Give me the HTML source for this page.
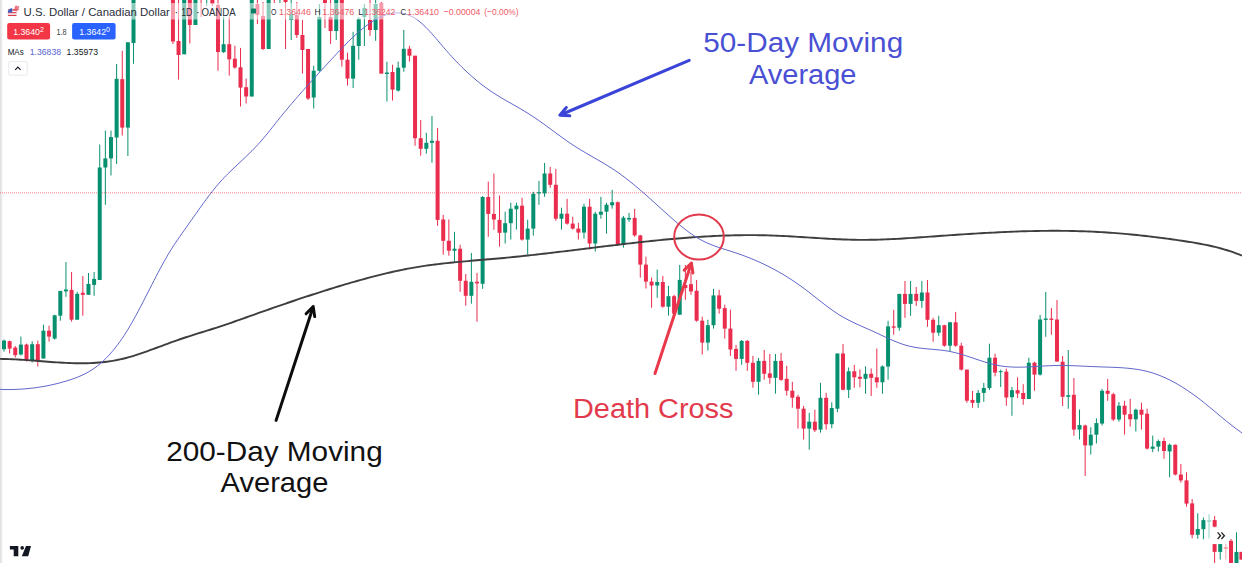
<!DOCTYPE html>
<html><head><meta charset="utf-8"><style>
html,body{margin:0;padding:0;background:#fff;}
body{width:1242px;height:563px;overflow:hidden;position:relative;font-family:"Liberation Sans", sans-serif;}
svg{position:absolute;left:0;top:0;display:block;}
</style></head><body>
<svg width="1242" height="563" viewBox="0 0 1242 563" font-family='"Liberation Sans", sans-serif'>
<rect x="0" y="0" width="1242" height="563" fill="#ffffff"/>
<rect x="0" y="0" width="1.7" height="563" fill="#e1e1e4"/>
<rect x="1.7" y="0" width="0.8" height="563" fill="#f2f2f4"/>
<line x1="0" y1="192.8" x2="1242" y2="192.8" stroke="#f23645" stroke-width="1" stroke-dasharray="1 1" opacity="0.6"/>
<g shape-rendering="auto">
<rect x="3.50" y="339.60" width="1" height="12.00" fill="#07906f"/><rect x="2.00" y="340.60" width="4.0" height="8.60" fill="#07906f"/>
<rect x="9.13" y="340.60" width="1" height="12.90" fill="#ea2c4e"/><rect x="7.63" y="341.20" width="4.0" height="7.40" fill="#ea2c4e"/>
<rect x="14.76" y="346.00" width="1" height="11.50" fill="#ea2c4e"/><rect x="13.26" y="347.60" width="4.0" height="7.50" fill="#ea2c4e"/>
<rect x="20.39" y="336.60" width="1" height="18.90" fill="#07906f"/><rect x="18.89" y="344.60" width="4.0" height="9.90" fill="#07906f"/>
<rect x="26.02" y="343.60" width="1" height="17.90" fill="#ea2c4e"/><rect x="24.52" y="344.60" width="4.0" height="15.90" fill="#ea2c4e"/>
<rect x="31.66" y="341.20" width="1" height="21.30" fill="#07906f"/><rect x="30.16" y="344.20" width="4.0" height="16.30" fill="#07906f"/>
<rect x="37.29" y="340.60" width="1" height="25.90" fill="#ea2c4e"/><rect x="35.79" y="344.20" width="4.0" height="15.80" fill="#ea2c4e"/>
<rect x="42.92" y="324.70" width="1" height="33.80" fill="#07906f"/><rect x="41.42" y="330.70" width="4.0" height="27.80" fill="#07906f"/>
<rect x="48.55" y="325.70" width="1" height="15.90" fill="#ea2c4e"/><rect x="47.05" y="330.70" width="4.0" height="5.90" fill="#ea2c4e"/>
<rect x="54.18" y="314.70" width="1" height="24.90" fill="#07906f"/><rect x="52.68" y="315.30" width="4.0" height="23.30" fill="#07906f"/>
<rect x="59.81" y="290.90" width="1" height="29.80" fill="#07906f"/><rect x="58.31" y="290.90" width="4.0" height="24.80" fill="#07906f"/>
<rect x="65.44" y="262.00" width="1" height="34.80" fill="#07906f"/><rect x="63.94" y="289.50" width="4.0" height="1.90" fill="#07906f"/>
<rect x="71.07" y="272.00" width="1" height="49.70" fill="#ea2c4e"/><rect x="69.57" y="289.90" width="4.0" height="29.80" fill="#ea2c4e"/>
<rect x="76.70" y="291.80" width="1" height="27.90" fill="#07906f"/><rect x="75.20" y="293.80" width="4.0" height="25.90" fill="#07906f"/>
<rect x="82.33" y="276.00" width="1" height="39.70" fill="#ea2c4e"/><rect x="80.83" y="292.80" width="4.0" height="2.00" fill="#ea2c4e"/>
<rect x="87.97" y="273.00" width="1" height="21.80" fill="#07906f"/><rect x="86.47" y="283.90" width="4.0" height="10.90" fill="#07906f"/>
<rect x="93.60" y="272.00" width="1" height="23.80" fill="#07906f"/><rect x="92.10" y="278.90" width="4.0" height="6.00" fill="#07906f"/>
<rect x="99.23" y="144.50" width="1" height="135.50" fill="#07906f"/><rect x="97.73" y="167.50" width="4.0" height="112.50" fill="#07906f"/>
<rect x="104.86" y="130.60" width="1" height="74.10" fill="#07906f"/><rect x="103.36" y="158.40" width="4.0" height="9.10" fill="#07906f"/>
<rect x="110.49" y="130.60" width="1" height="44.90" fill="#07906f"/><rect x="108.99" y="137.10" width="4.0" height="21.30" fill="#07906f"/>
<rect x="116.12" y="63.90" width="1" height="100.10" fill="#07906f"/><rect x="114.62" y="78.80" width="4.0" height="58.70" fill="#07906f"/>
<rect x="121.75" y="50.80" width="1" height="84.70" fill="#ea2c4e"/><rect x="120.25" y="79.20" width="4.0" height="48.40" fill="#ea2c4e"/>
<rect x="127.38" y="42.30" width="1" height="113.70" fill="#07906f"/><rect x="125.88" y="42.30" width="4.0" height="85.30" fill="#07906f"/>
<rect x="133.01" y="-10.00" width="1" height="73.80" fill="#07906f"/><rect x="131.51" y="-10.00" width="4.0" height="53.00" fill="#07906f"/>
<rect x="172.43" y="-10.00" width="1" height="54.00" fill="#ea2c4e"/><rect x="170.93" y="-10.00" width="4.0" height="51.50" fill="#ea2c4e"/>
<rect x="178.06" y="-10.00" width="1" height="89.60" fill="#ea2c4e"/><rect x="176.56" y="41.00" width="4.0" height="14.00" fill="#ea2c4e"/>
<rect x="183.69" y="-10.00" width="1" height="64.30" fill="#07906f"/><rect x="182.19" y="-10.00" width="4.0" height="64.30" fill="#07906f"/>
<rect x="189.32" y="-10.00" width="1" height="53.50" fill="#ea2c4e"/><rect x="187.82" y="-10.00" width="4.0" height="35.00" fill="#ea2c4e"/>
<rect x="194.95" y="-10.00" width="1" height="35.00" fill="#07906f"/><rect x="193.45" y="-10.00" width="4.0" height="35.00" fill="#07906f"/>
<rect x="200.59" y="-10.00" width="1" height="27.00" fill="#ea2c4e"/><rect x="199.09" y="-10.00" width="4.0" height="8.00" fill="#ea2c4e"/>
<rect x="206.22" y="-10.00" width="1" height="16.00" fill="#07906f"/><rect x="204.72" y="-10.00" width="4.0" height="8.00" fill="#07906f"/>
<rect x="211.85" y="-10.00" width="1" height="16.00" fill="#ea2c4e"/><rect x="210.35" y="-10.00" width="4.0" height="14.00" fill="#ea2c4e"/>
<rect x="217.48" y="-10.00" width="1" height="80.70" fill="#ea2c4e"/><rect x="215.98" y="5.00" width="4.0" height="47.00" fill="#ea2c4e"/>
<rect x="223.11" y="16.50" width="1" height="36.50" fill="#07906f"/><rect x="221.61" y="44.20" width="4.0" height="7.90" fill="#07906f"/>
<rect x="228.74" y="16.50" width="1" height="59.10" fill="#ea2c4e"/><rect x="227.24" y="44.20" width="4.0" height="15.10" fill="#ea2c4e"/>
<rect x="234.37" y="45.60" width="1" height="23.10" fill="#ea2c4e"/><rect x="232.87" y="58.70" width="4.0" height="8.80" fill="#ea2c4e"/>
<rect x="240.00" y="47.90" width="1" height="58.60" fill="#ea2c4e"/><rect x="238.50" y="67.30" width="4.0" height="20.30" fill="#ea2c4e"/>
<rect x="245.63" y="78.60" width="1" height="24.90" fill="#ea2c4e"/><rect x="244.13" y="87.20" width="4.0" height="9.30" fill="#ea2c4e"/>
<rect x="251.26" y="-10.00" width="1" height="106.50" fill="#07906f"/><rect x="249.76" y="-10.00" width="4.0" height="106.50" fill="#07906f"/>
<rect x="256.89" y="-10.00" width="1" height="34.00" fill="#ea2c4e"/><rect x="255.39" y="4.00" width="4.0" height="11.00" fill="#ea2c4e"/>
<rect x="262.53" y="2.00" width="1" height="48.00" fill="#ea2c4e"/><rect x="261.03" y="16.00" width="4.0" height="33.00" fill="#ea2c4e"/>
<rect x="268.16" y="-10.00" width="1" height="59.00" fill="#07906f"/><rect x="266.66" y="-10.00" width="4.0" height="59.00" fill="#07906f"/>
<rect x="273.79" y="-10.00" width="1" height="13.00" fill="#ea2c4e"/><rect x="272.29" y="-10.00" width="4.0" height="8.00" fill="#ea2c4e"/>
<rect x="279.42" y="-10.00" width="1" height="13.00" fill="#07906f"/><rect x="277.92" y="-10.00" width="4.0" height="8.00" fill="#07906f"/>
<rect x="285.05" y="-10.00" width="1" height="59.00" fill="#ea2c4e"/><rect x="283.55" y="-10.00" width="4.0" height="12.00" fill="#ea2c4e"/>
<rect x="290.68" y="-10.00" width="1" height="50.00" fill="#07906f"/><rect x="289.18" y="14.00" width="4.0" height="6.00" fill="#07906f"/>
<rect x="296.31" y="2.00" width="1" height="36.00" fill="#ea2c4e"/><rect x="294.81" y="15.00" width="4.0" height="20.00" fill="#ea2c4e"/>
<rect x="301.94" y="20.00" width="1" height="53.60" fill="#ea2c4e"/><rect x="300.44" y="35.00" width="4.0" height="15.00" fill="#ea2c4e"/>
<rect x="307.57" y="48.80" width="1" height="51.20" fill="#ea2c4e"/><rect x="306.07" y="49.00" width="4.0" height="49.50" fill="#ea2c4e"/>
<rect x="313.21" y="65.70" width="1" height="42.80" fill="#07906f"/><rect x="311.71" y="70.70" width="4.0" height="26.80" fill="#07906f"/>
<rect x="318.84" y="4.00" width="1" height="67.70" fill="#07906f"/><rect x="317.34" y="17.00" width="4.0" height="53.70" fill="#07906f"/>
<rect x="324.47" y="-10.00" width="1" height="38.00" fill="#ea2c4e"/><rect x="322.97" y="-10.00" width="4.0" height="13.00" fill="#ea2c4e"/>
<rect x="330.10" y="-10.00" width="1" height="54.00" fill="#ea2c4e"/><rect x="328.60" y="17.00" width="4.0" height="14.00" fill="#ea2c4e"/>
<rect x="335.73" y="-10.00" width="1" height="50.00" fill="#07906f"/><rect x="334.23" y="-10.00" width="4.0" height="41.00" fill="#07906f"/>
<rect x="341.36" y="-10.00" width="1" height="76.70" fill="#ea2c4e"/><rect x="339.86" y="-10.00" width="4.0" height="69.70" fill="#ea2c4e"/>
<rect x="346.99" y="52.70" width="1" height="32.90" fill="#ea2c4e"/><rect x="345.49" y="59.70" width="4.0" height="18.90" fill="#ea2c4e"/>
<rect x="352.62" y="31.80" width="1" height="56.20" fill="#07906f"/><rect x="351.12" y="45.80" width="4.0" height="32.80" fill="#07906f"/>
<rect x="358.25" y="17.00" width="1" height="42.70" fill="#07906f"/><rect x="356.75" y="19.00" width="4.0" height="27.00" fill="#07906f"/>
<rect x="363.88" y="4.00" width="1" height="42.00" fill="#07906f"/><rect x="362.38" y="8.00" width="4.0" height="9.00" fill="#07906f"/>
<rect x="369.51" y="-10.00" width="1" height="45.80" fill="#ea2c4e"/><rect x="368.01" y="20.00" width="4.0" height="10.00" fill="#ea2c4e"/>
<rect x="375.15" y="-10.00" width="1" height="50.80" fill="#07906f"/><rect x="373.65" y="4.00" width="4.0" height="26.00" fill="#07906f"/>
<rect x="380.78" y="2.00" width="1" height="71.60" fill="#ea2c4e"/><rect x="379.28" y="3.00" width="4.0" height="70.60" fill="#ea2c4e"/>
<rect x="386.41" y="61.70" width="1" height="39.80" fill="#07906f"/><rect x="384.91" y="72.50" width="4.0" height="1.50" fill="#07906f"/>
<rect x="392.04" y="64.70" width="1" height="35.80" fill="#ea2c4e"/><rect x="390.54" y="72.00" width="4.0" height="17.60" fill="#ea2c4e"/>
<rect x="397.67" y="61.70" width="1" height="29.90" fill="#07906f"/><rect x="396.17" y="67.70" width="4.0" height="22.90" fill="#07906f"/>
<rect x="403.30" y="29.90" width="1" height="41.80" fill="#07906f"/><rect x="401.80" y="48.80" width="4.0" height="18.90" fill="#07906f"/>
<rect x="408.93" y="45.80" width="1" height="15.90" fill="#ea2c4e"/><rect x="407.43" y="48.80" width="4.0" height="6.90" fill="#ea2c4e"/>
<rect x="414.56" y="55.70" width="1" height="90.10" fill="#ea2c4e"/><rect x="413.06" y="55.70" width="4.0" height="82.50" fill="#ea2c4e"/>
<rect x="420.19" y="119.90" width="1" height="35.80" fill="#ea2c4e"/><rect x="418.69" y="138.20" width="4.0" height="10.60" fill="#ea2c4e"/>
<rect x="425.83" y="132.80" width="1" height="20.90" fill="#07906f"/><rect x="424.33" y="142.80" width="4.0" height="6.00" fill="#07906f"/>
<rect x="431.46" y="115.90" width="1" height="46.80" fill="#07906f"/><rect x="429.96" y="140.80" width="4.0" height="2.00" fill="#07906f"/>
<rect x="437.09" y="127.90" width="1" height="97.90" fill="#ea2c4e"/><rect x="435.59" y="140.80" width="4.0" height="79.10" fill="#ea2c4e"/>
<rect x="442.72" y="214.90" width="1" height="39.80" fill="#ea2c4e"/><rect x="441.22" y="219.50" width="4.0" height="21.30" fill="#ea2c4e"/>
<rect x="448.35" y="219.50" width="1" height="36.20" fill="#ea2c4e"/><rect x="446.85" y="240.80" width="4.0" height="9.90" fill="#ea2c4e"/>
<rect x="453.98" y="231.80" width="1" height="29.90" fill="#07906f"/><rect x="452.48" y="248.70" width="4.0" height="2.00" fill="#07906f"/>
<rect x="459.61" y="244.70" width="1" height="47.10" fill="#ea2c4e"/><rect x="458.11" y="248.70" width="4.0" height="32.10" fill="#ea2c4e"/>
<rect x="465.24" y="273.90" width="1" height="31.80" fill="#ea2c4e"/><rect x="463.74" y="280.80" width="4.0" height="15.00" fill="#ea2c4e"/>
<rect x="470.87" y="253.00" width="1" height="50.70" fill="#07906f"/><rect x="469.37" y="281.80" width="4.0" height="14.00" fill="#07906f"/>
<rect x="476.50" y="272.90" width="1" height="48.80" fill="#ea2c4e"/><rect x="475.00" y="281.80" width="4.0" height="1.60" fill="#ea2c4e"/>
<rect x="482.13" y="196.00" width="1" height="92.80" fill="#07906f"/><rect x="480.63" y="197.00" width="4.0" height="86.80" fill="#07906f"/>
<rect x="487.77" y="181.60" width="1" height="55.20" fill="#ea2c4e"/><rect x="486.27" y="197.00" width="4.0" height="16.90" fill="#ea2c4e"/>
<rect x="493.40" y="173.60" width="1" height="56.20" fill="#ea2c4e"/><rect x="491.90" y="213.90" width="4.0" height="5.60" fill="#ea2c4e"/>
<rect x="499.03" y="195.50" width="1" height="51.20" fill="#ea2c4e"/><rect x="497.53" y="219.90" width="4.0" height="12.90" fill="#ea2c4e"/>
<rect x="504.66" y="211.70" width="1" height="31.80" fill="#07906f"/><rect x="503.16" y="223.20" width="4.0" height="9.40" fill="#07906f"/>
<rect x="510.29" y="202.70" width="1" height="36.90" fill="#07906f"/><rect x="508.79" y="208.70" width="4.0" height="14.50" fill="#07906f"/>
<rect x="515.92" y="202.70" width="1" height="26.90" fill="#07906f"/><rect x="514.42" y="205.70" width="4.0" height="3.60" fill="#07906f"/>
<rect x="521.55" y="197.80" width="1" height="42.80" fill="#ea2c4e"/><rect x="520.05" y="205.70" width="4.0" height="33.90" fill="#ea2c4e"/>
<rect x="527.18" y="219.70" width="1" height="34.80" fill="#07906f"/><rect x="525.68" y="228.60" width="4.0" height="11.00" fill="#07906f"/>
<rect x="532.81" y="191.80" width="1" height="43.80" fill="#07906f"/><rect x="531.31" y="193.80" width="4.0" height="34.80" fill="#07906f"/>
<rect x="538.45" y="180.90" width="1" height="23.80" fill="#07906f"/><rect x="536.95" y="192.20" width="4.0" height="1.20" fill="#07906f"/>
<rect x="544.08" y="162.90" width="1" height="33.90" fill="#07906f"/><rect x="542.58" y="173.50" width="4.0" height="19.90" fill="#07906f"/>
<rect x="549.71" y="166.90" width="1" height="20.90" fill="#ea2c4e"/><rect x="548.21" y="173.50" width="4.0" height="11.30" fill="#ea2c4e"/>
<rect x="555.34" y="168.90" width="1" height="51.80" fill="#ea2c4e"/><rect x="553.84" y="184.80" width="4.0" height="33.90" fill="#ea2c4e"/>
<rect x="560.97" y="207.70" width="1" height="21.90" fill="#07906f"/><rect x="559.47" y="213.70" width="4.0" height="5.00" fill="#07906f"/>
<rect x="566.60" y="198.80" width="1" height="25.80" fill="#ea2c4e"/><rect x="565.10" y="213.70" width="4.0" height="9.90" fill="#ea2c4e"/>
<rect x="572.23" y="216.70" width="1" height="12.90" fill="#ea2c4e"/><rect x="570.73" y="223.60" width="4.0" height="5.00" fill="#ea2c4e"/>
<rect x="577.86" y="222.70" width="1" height="16.90" fill="#ea2c4e"/><rect x="576.36" y="228.60" width="4.0" height="4.00" fill="#ea2c4e"/>
<rect x="583.49" y="203.70" width="1" height="34.90" fill="#07906f"/><rect x="581.99" y="206.70" width="4.0" height="25.90" fill="#07906f"/>
<rect x="589.12" y="198.80" width="1" height="50.70" fill="#ea2c4e"/><rect x="587.62" y="206.70" width="4.0" height="36.80" fill="#ea2c4e"/>
<rect x="594.75" y="211.70" width="1" height="39.80" fill="#07906f"/><rect x="593.25" y="213.70" width="4.0" height="29.80" fill="#07906f"/>
<rect x="600.39" y="196.80" width="1" height="21.90" fill="#07906f"/><rect x="598.89" y="211.70" width="4.0" height="3.00" fill="#07906f"/>
<rect x="606.02" y="202.70" width="1" height="30.90" fill="#07906f"/><rect x="604.52" y="204.70" width="4.0" height="7.00" fill="#07906f"/>
<rect x="611.65" y="189.80" width="1" height="18.90" fill="#07906f"/><rect x="610.15" y="202.20" width="4.0" height="3.10" fill="#07906f"/>
<rect x="617.28" y="201.40" width="1" height="44.10" fill="#ea2c4e"/><rect x="615.78" y="202.20" width="4.0" height="42.30" fill="#ea2c4e"/>
<rect x="622.91" y="215.90" width="1" height="31.80" fill="#07906f"/><rect x="621.41" y="217.70" width="4.0" height="26.80" fill="#07906f"/>
<rect x="628.54" y="212.90" width="1" height="8.90" fill="#07906f"/><rect x="627.04" y="217.90" width="4.0" height="1.60" fill="#07906f"/>
<rect x="634.17" y="208.90" width="1" height="27.90" fill="#ea2c4e"/><rect x="632.67" y="217.90" width="4.0" height="17.50" fill="#ea2c4e"/>
<rect x="639.80" y="234.80" width="1" height="42.80" fill="#ea2c4e"/><rect x="638.30" y="235.40" width="4.0" height="29.20" fill="#ea2c4e"/>
<rect x="645.43" y="256.70" width="1" height="31.80" fill="#ea2c4e"/><rect x="643.93" y="264.60" width="4.0" height="17.00" fill="#ea2c4e"/>
<rect x="651.07" y="277.60" width="1" height="30.10" fill="#ea2c4e"/><rect x="649.57" y="281.60" width="4.0" height="3.90" fill="#ea2c4e"/>
<rect x="656.70" y="269.60" width="1" height="28.20" fill="#07906f"/><rect x="655.20" y="282.00" width="4.0" height="3.50" fill="#07906f"/>
<rect x="662.33" y="275.90" width="1" height="31.80" fill="#ea2c4e"/><rect x="660.83" y="282.00" width="4.0" height="24.70" fill="#ea2c4e"/>
<rect x="667.96" y="285.80" width="1" height="29.90" fill="#07906f"/><rect x="666.46" y="296.20" width="4.0" height="10.50" fill="#07906f"/>
<rect x="673.59" y="294.80" width="1" height="20.90" fill="#ea2c4e"/><rect x="672.09" y="296.20" width="4.0" height="17.50" fill="#ea2c4e"/>
<rect x="679.22" y="264.90" width="1" height="49.80" fill="#07906f"/><rect x="677.72" y="279.90" width="4.0" height="34.80" fill="#07906f"/>
<rect x="684.85" y="265.00" width="1" height="34.80" fill="#ea2c4e"/><rect x="683.35" y="285.00" width="4.0" height="3.00" fill="#ea2c4e"/>
<rect x="690.48" y="271.90" width="1" height="22.90" fill="#ea2c4e"/><rect x="688.98" y="284.20" width="4.0" height="7.20" fill="#ea2c4e"/>
<rect x="696.11" y="279.90" width="1" height="41.80" fill="#ea2c4e"/><rect x="694.61" y="290.80" width="4.0" height="29.90" fill="#ea2c4e"/>
<rect x="701.74" y="316.70" width="1" height="37.80" fill="#ea2c4e"/><rect x="700.24" y="320.70" width="4.0" height="21.90" fill="#ea2c4e"/>
<rect x="707.38" y="319.70" width="1" height="30.80" fill="#07906f"/><rect x="705.88" y="325.20" width="4.0" height="17.40" fill="#07906f"/>
<rect x="713.01" y="288.80" width="1" height="39.80" fill="#07906f"/><rect x="711.51" y="295.40" width="4.0" height="29.80" fill="#07906f"/>
<rect x="718.64" y="289.80" width="1" height="23.90" fill="#ea2c4e"/><rect x="717.14" y="295.40" width="4.0" height="13.30" fill="#ea2c4e"/>
<rect x="724.27" y="304.70" width="1" height="33.90" fill="#ea2c4e"/><rect x="722.77" y="308.10" width="4.0" height="20.50" fill="#ea2c4e"/>
<rect x="729.90" y="309.70" width="1" height="46.20" fill="#ea2c4e"/><rect x="728.40" y="328.60" width="4.0" height="20.90" fill="#ea2c4e"/>
<rect x="735.53" y="344.90" width="1" height="25.90" fill="#ea2c4e"/><rect x="734.03" y="348.90" width="4.0" height="10.00" fill="#ea2c4e"/>
<rect x="741.16" y="340.00" width="1" height="24.80" fill="#07906f"/><rect x="739.66" y="340.90" width="4.0" height="18.00" fill="#07906f"/>
<rect x="746.79" y="340.00" width="1" height="30.80" fill="#ea2c4e"/><rect x="745.29" y="340.90" width="4.0" height="21.90" fill="#ea2c4e"/>
<rect x="752.42" y="355.90" width="1" height="31.80" fill="#ea2c4e"/><rect x="750.92" y="362.80" width="4.0" height="19.00" fill="#ea2c4e"/>
<rect x="758.05" y="357.90" width="1" height="36.80" fill="#07906f"/><rect x="756.55" y="360.90" width="4.0" height="20.90" fill="#07906f"/>
<rect x="763.69" y="349.90" width="1" height="29.90" fill="#ea2c4e"/><rect x="762.19" y="360.90" width="4.0" height="12.90" fill="#ea2c4e"/>
<rect x="769.32" y="353.90" width="1" height="29.80" fill="#ea2c4e"/><rect x="767.82" y="373.40" width="4.0" height="4.40" fill="#ea2c4e"/>
<rect x="774.95" y="353.90" width="1" height="39.80" fill="#07906f"/><rect x="773.45" y="360.90" width="4.0" height="16.90" fill="#07906f"/>
<rect x="780.58" y="352.90" width="1" height="27.90" fill="#ea2c4e"/><rect x="779.08" y="360.90" width="4.0" height="18.90" fill="#ea2c4e"/>
<rect x="786.21" y="365.80" width="1" height="29.90" fill="#ea2c4e"/><rect x="784.71" y="378.80" width="4.0" height="11.90" fill="#ea2c4e"/>
<rect x="791.84" y="381.80" width="1" height="25.80" fill="#ea2c4e"/><rect x="790.34" y="390.70" width="4.0" height="7.00" fill="#ea2c4e"/>
<rect x="797.47" y="394.80" width="1" height="33.70" fill="#ea2c4e"/><rect x="795.97" y="396.80" width="4.0" height="11.90" fill="#ea2c4e"/>
<rect x="803.10" y="405.90" width="1" height="33.70" fill="#ea2c4e"/><rect x="801.60" y="408.70" width="4.0" height="19.90" fill="#ea2c4e"/>
<rect x="808.73" y="412.80" width="1" height="36.90" fill="#07906f"/><rect x="807.23" y="421.70" width="4.0" height="6.90" fill="#07906f"/>
<rect x="814.36" y="409.70" width="1" height="22.30" fill="#ea2c4e"/><rect x="812.86" y="421.70" width="4.0" height="8.50" fill="#ea2c4e"/>
<rect x="820.00" y="382.80" width="1" height="49.80" fill="#07906f"/><rect x="818.50" y="397.80" width="4.0" height="31.80" fill="#07906f"/>
<rect x="825.63" y="392.80" width="1" height="36.80" fill="#ea2c4e"/><rect x="824.13" y="397.80" width="4.0" height="26.40" fill="#ea2c4e"/>
<rect x="831.26" y="402.30" width="1" height="25.90" fill="#07906f"/><rect x="829.76" y="408.00" width="4.0" height="16.20" fill="#07906f"/>
<rect x="836.89" y="353.50" width="1" height="58.70" fill="#07906f"/><rect x="835.39" y="353.50" width="4.0" height="55.20" fill="#07906f"/>
<rect x="842.52" y="344.00" width="1" height="46.20" fill="#ea2c4e"/><rect x="841.02" y="353.50" width="4.0" height="36.30" fill="#ea2c4e"/>
<rect x="848.15" y="367.40" width="1" height="30.60" fill="#07906f"/><rect x="846.65" y="371.30" width="4.0" height="18.50" fill="#07906f"/>
<rect x="853.78" y="364.90" width="1" height="22.90" fill="#ea2c4e"/><rect x="852.28" y="371.30" width="4.0" height="6.00" fill="#ea2c4e"/>
<rect x="859.41" y="369.40" width="1" height="17.90" fill="#ea2c4e"/><rect x="857.91" y="376.80" width="4.0" height="2.00" fill="#ea2c4e"/>
<rect x="865.04" y="366.40" width="1" height="27.30" fill="#07906f"/><rect x="863.54" y="373.80" width="4.0" height="5.00" fill="#07906f"/>
<rect x="870.67" y="368.40" width="1" height="27.60" fill="#ea2c4e"/><rect x="869.17" y="373.80" width="4.0" height="4.00" fill="#ea2c4e"/>
<rect x="876.31" y="348.50" width="1" height="39.30" fill="#ea2c4e"/><rect x="874.81" y="377.30" width="4.0" height="5.00" fill="#ea2c4e"/>
<rect x="881.94" y="365.40" width="1" height="28.30" fill="#07906f"/><rect x="880.44" y="366.40" width="4.0" height="15.90" fill="#07906f"/>
<rect x="887.57" y="320.80" width="1" height="58.90" fill="#07906f"/><rect x="886.07" y="326.40" width="4.0" height="40.10" fill="#07906f"/>
<rect x="893.20" y="309.80" width="1" height="24.90" fill="#ea2c4e"/><rect x="891.70" y="326.40" width="4.0" height="1.30" fill="#ea2c4e"/>
<rect x="898.83" y="293.90" width="1" height="36.80" fill="#07906f"/><rect x="897.33" y="293.90" width="4.0" height="33.80" fill="#07906f"/>
<rect x="904.46" y="281.00" width="1" height="36.80" fill="#ea2c4e"/><rect x="902.96" y="293.90" width="4.0" height="10.00" fill="#ea2c4e"/>
<rect x="910.09" y="281.00" width="1" height="34.80" fill="#07906f"/><rect x="908.59" y="293.90" width="4.0" height="10.00" fill="#07906f"/>
<rect x="915.72" y="287.00" width="1" height="18.90" fill="#ea2c4e"/><rect x="914.22" y="293.90" width="4.0" height="7.00" fill="#ea2c4e"/>
<rect x="921.35" y="281.00" width="1" height="26.80" fill="#07906f"/><rect x="919.85" y="292.50" width="4.0" height="8.40" fill="#07906f"/>
<rect x="926.98" y="280.00" width="1" height="46.80" fill="#ea2c4e"/><rect x="925.48" y="292.50" width="4.0" height="27.30" fill="#ea2c4e"/>
<rect x="932.62" y="317.80" width="1" height="23.90" fill="#ea2c4e"/><rect x="931.12" y="319.80" width="4.0" height="12.90" fill="#ea2c4e"/>
<rect x="938.25" y="315.80" width="1" height="19.90" fill="#07906f"/><rect x="936.75" y="325.20" width="4.0" height="7.50" fill="#07906f"/>
<rect x="943.88" y="324.80" width="1" height="21.90" fill="#ea2c4e"/><rect x="942.38" y="325.20" width="4.0" height="20.50" fill="#ea2c4e"/>
<rect x="949.51" y="321.80" width="1" height="29.20" fill="#07906f"/><rect x="948.01" y="322.30" width="4.0" height="23.40" fill="#07906f"/>
<rect x="955.14" y="311.90" width="1" height="34.80" fill="#ea2c4e"/><rect x="953.64" y="322.30" width="4.0" height="23.40" fill="#ea2c4e"/>
<rect x="960.77" y="342.70" width="1" height="27.90" fill="#ea2c4e"/><rect x="959.27" y="345.70" width="4.0" height="23.90" fill="#ea2c4e"/>
<rect x="966.40" y="369.60" width="1" height="33.20" fill="#ea2c4e"/><rect x="964.90" y="369.60" width="4.0" height="31.10" fill="#ea2c4e"/>
<rect x="972.03" y="390.90" width="1" height="16.90" fill="#ea2c4e"/><rect x="970.53" y="399.90" width="4.0" height="2.90" fill="#ea2c4e"/>
<rect x="977.66" y="389.90" width="1" height="17.90" fill="#07906f"/><rect x="976.16" y="392.90" width="4.0" height="9.90" fill="#07906f"/>
<rect x="983.29" y="382.90" width="1" height="18.90" fill="#07906f"/><rect x="981.79" y="387.90" width="4.0" height="5.00" fill="#07906f"/>
<rect x="988.93" y="343.70" width="1" height="46.30" fill="#07906f"/><rect x="987.43" y="357.70" width="4.0" height="30.30" fill="#07906f"/>
<rect x="994.56" y="353.70" width="1" height="22.60" fill="#ea2c4e"/><rect x="993.06" y="357.70" width="4.0" height="14.90" fill="#ea2c4e"/>
<rect x="1000.19" y="369.60" width="1" height="17.40" fill="#07906f"/><rect x="998.69" y="371.20" width="4.0" height="1.00" fill="#07906f"/>
<rect x="1005.82" y="368.60" width="1" height="37.20" fill="#ea2c4e"/><rect x="1004.32" y="371.60" width="4.0" height="25.90" fill="#ea2c4e"/>
<rect x="1011.45" y="386.90" width="1" height="28.90" fill="#07906f"/><rect x="1009.95" y="390.20" width="4.0" height="7.00" fill="#07906f"/>
<rect x="1017.08" y="377.30" width="1" height="20.60" fill="#ea2c4e"/><rect x="1015.58" y="390.20" width="4.0" height="3.30" fill="#ea2c4e"/>
<rect x="1022.71" y="384.20" width="1" height="20.60" fill="#ea2c4e"/><rect x="1021.21" y="393.00" width="4.0" height="6.00" fill="#ea2c4e"/>
<rect x="1028.34" y="357.70" width="1" height="41.30" fill="#07906f"/><rect x="1026.84" y="362.70" width="4.0" height="36.30" fill="#07906f"/>
<rect x="1033.97" y="361.70" width="1" height="29.00" fill="#ea2c4e"/><rect x="1032.47" y="362.70" width="4.0" height="11.90" fill="#ea2c4e"/>
<rect x="1039.60" y="314.90" width="1" height="60.70" fill="#07906f"/><rect x="1038.10" y="319.50" width="4.0" height="55.10" fill="#07906f"/>
<rect x="1045.24" y="292.00" width="1" height="44.80" fill="#07906f"/><rect x="1043.74" y="318.50" width="4.0" height="1.40" fill="#07906f"/>
<rect x="1050.87" y="307.90" width="1" height="26.90" fill="#ea2c4e"/><rect x="1049.37" y="318.50" width="4.0" height="1.40" fill="#ea2c4e"/>
<rect x="1056.50" y="300.00" width="1" height="61.70" fill="#ea2c4e"/><rect x="1055.00" y="319.50" width="4.0" height="42.00" fill="#ea2c4e"/>
<rect x="1062.13" y="356.00" width="1" height="50.00" fill="#ea2c4e"/><rect x="1060.63" y="361.80" width="4.0" height="35.00" fill="#ea2c4e"/>
<rect x="1067.76" y="350.00" width="1" height="58.70" fill="#07906f"/><rect x="1066.26" y="395.20" width="4.0" height="1.60" fill="#07906f"/>
<rect x="1073.39" y="378.00" width="1" height="57.80" fill="#ea2c4e"/><rect x="1071.89" y="394.80" width="4.0" height="34.80" fill="#ea2c4e"/>
<rect x="1079.02" y="409.50" width="1" height="30.00" fill="#07906f"/><rect x="1077.52" y="425.00" width="4.0" height="4.60" fill="#07906f"/>
<rect x="1084.65" y="424.60" width="1" height="51.40" fill="#ea2c4e"/><rect x="1083.15" y="425.50" width="4.0" height="19.90" fill="#ea2c4e"/>
<rect x="1090.28" y="427.20" width="1" height="27.30" fill="#07906f"/><rect x="1088.78" y="434.70" width="4.0" height="10.70" fill="#07906f"/>
<rect x="1095.91" y="418.30" width="1" height="25.20" fill="#07906f"/><rect x="1094.41" y="423.10" width="4.0" height="11.60" fill="#07906f"/>
<rect x="1101.55" y="388.80" width="1" height="36.70" fill="#07906f"/><rect x="1100.05" y="390.80" width="4.0" height="32.80" fill="#07906f"/>
<rect x="1107.18" y="378.90" width="1" height="21.90" fill="#ea2c4e"/><rect x="1105.68" y="390.80" width="4.0" height="3.00" fill="#ea2c4e"/>
<rect x="1112.81" y="392.80" width="1" height="28.20" fill="#ea2c4e"/><rect x="1111.31" y="394.20" width="4.0" height="25.30" fill="#ea2c4e"/>
<rect x="1118.44" y="402.00" width="1" height="19.70" fill="#07906f"/><rect x="1116.94" y="405.70" width="4.0" height="13.80" fill="#07906f"/>
<rect x="1124.07" y="400.80" width="1" height="33.80" fill="#ea2c4e"/><rect x="1122.57" y="405.70" width="4.0" height="9.00" fill="#ea2c4e"/>
<rect x="1129.70" y="398.80" width="1" height="27.80" fill="#ea2c4e"/><rect x="1128.20" y="414.10" width="4.0" height="5.20" fill="#ea2c4e"/>
<rect x="1135.33" y="408.70" width="1" height="22.90" fill="#07906f"/><rect x="1133.83" y="409.70" width="4.0" height="9.60" fill="#07906f"/>
<rect x="1140.96" y="402.70" width="1" height="26.90" fill="#ea2c4e"/><rect x="1139.46" y="409.70" width="4.0" height="5.00" fill="#ea2c4e"/>
<rect x="1146.59" y="408.70" width="1" height="40.80" fill="#ea2c4e"/><rect x="1145.09" y="413.70" width="4.0" height="34.90" fill="#ea2c4e"/>
<rect x="1152.22" y="435.60" width="1" height="16.60" fill="#07906f"/><rect x="1150.72" y="446.60" width="4.0" height="2.20" fill="#07906f"/>
<rect x="1157.86" y="439.60" width="1" height="11.90" fill="#07906f"/><rect x="1156.36" y="441.00" width="4.0" height="5.60" fill="#07906f"/>
<rect x="1163.49" y="437.60" width="1" height="21.20" fill="#ea2c4e"/><rect x="1161.99" y="441.00" width="4.0" height="10.00" fill="#ea2c4e"/>
<rect x="1169.12" y="443.50" width="1" height="33.60" fill="#07906f"/><rect x="1167.62" y="444.80" width="4.0" height="6.60" fill="#07906f"/>
<rect x="1174.75" y="444.40" width="1" height="31.10" fill="#ea2c4e"/><rect x="1173.25" y="444.80" width="4.0" height="29.70" fill="#ea2c4e"/>
<rect x="1180.38" y="464.00" width="1" height="18.60" fill="#ea2c4e"/><rect x="1178.88" y="474.50" width="4.0" height="5.90" fill="#ea2c4e"/>
<rect x="1186.01" y="472.30" width="1" height="34.30" fill="#ea2c4e"/><rect x="1184.51" y="480.40" width="4.0" height="23.20" fill="#ea2c4e"/>
<rect x="1191.64" y="499.00" width="1" height="39.30" fill="#ea2c4e"/><rect x="1190.14" y="503.40" width="4.0" height="31.40" fill="#ea2c4e"/>
<rect x="1197.27" y="513.30" width="1" height="25.50" fill="#07906f"/><rect x="1195.77" y="529.00" width="4.0" height="5.80" fill="#07906f"/>
<rect x="1202.90" y="517.60" width="1" height="21.60" fill="#07906f"/><rect x="1201.40" y="520.10" width="4.0" height="9.10" fill="#07906f"/>
<rect x="1208.53" y="514.20" width="1" height="24.30" fill="#8fd3c4"/><rect x="1207.03" y="520.30" width="4.0" height="1.40" fill="#8fd3c4"/>
<rect x="1214.16" y="516.00" width="1" height="11.30" fill="#ea2c4e"/><rect x="1212.66" y="520.10" width="4.0" height="6.60" fill="#ea2c4e"/>
<rect x="1214.10" y="544.00" width="1" height="19.50" fill="#ea2c4e"/><rect x="1212.60" y="544.10" width="4.0" height="7.80" fill="#ea2c4e"/>
<rect x="1219.70" y="544.00" width="1" height="15.60" fill="#07906f"/><rect x="1218.20" y="544.10" width="4.0" height="7.80" fill="#07906f"/>
<rect x="1225.30" y="544.00" width="1" height="15.60" fill="#f6a9b1"/><rect x="1223.80" y="547.00" width="4.0" height="2.00" fill="#f6a9b1"/>
<rect x="1230.50" y="539.00" width="1" height="24.50" fill="#ea2c4e"/><rect x="1229.00" y="540.80" width="4.0" height="22.70" fill="#ea2c4e"/>
<rect x="1236.00" y="532.30" width="1" height="31.20" fill="#07906f"/><rect x="1234.50" y="551.90" width="4.0" height="11.60" fill="#07906f"/>
<rect x="1240.90" y="551.90" width="1" height="7.70" fill="#ea2c4e"/><rect x="1239.40" y="551.90" width="4.0" height="7.70" fill="#ea2c4e"/>
</g>
<path d="M0.0,358.89 L3.0,358.93 L6.0,359.00 L9.0,359.09 L12.0,359.22 L15.0,359.36 L18.0,359.53 L21.0,359.71 L24.0,359.91 L27.0,360.12 L30.0,360.34 L33.0,360.57 L36.0,360.81 L39.0,361.04 L42.0,361.28 L45.0,361.52 L48.0,361.75 L51.0,361.97 L54.0,362.18 L57.0,362.39 L60.0,362.57 L63.0,362.74 L66.0,362.90 L69.0,363.02 L72.0,363.13 L75.0,363.20 L78.0,363.25 L81.0,363.27 L84.0,363.25 L87.0,363.19 L90.0,363.10 L93.0,362.96 L96.0,362.78 L99.0,362.55 L102.0,362.27 L105.0,361.94 L108.0,361.56 L111.0,361.11 L114.0,360.61 L117.0,360.05 L120.0,359.42 L123.0,358.73 L126.0,357.97 L129.0,357.16 L132.0,356.29 L135.0,355.37 L138.0,354.41 L141.0,353.41 L144.0,352.37 L147.0,351.31 L150.0,350.23 L153.0,349.13 L156.0,348.01 L159.0,346.89 L162.0,345.77 L165.0,344.64 L168.0,343.53 L171.0,342.43 L174.0,341.35 L177.0,340.28 L180.0,339.25 L183.0,338.24 L186.0,337.26 L189.0,336.29 L192.0,335.33 L195.0,334.39 L198.0,333.46 L201.0,332.53 L204.0,331.60 L207.0,330.67 L210.0,329.73 L213.0,328.78 L216.0,327.82 L219.0,326.85 L222.0,325.86 L225.0,324.85 L228.0,323.83 L231.0,322.80 L234.0,321.76 L237.0,320.70 L240.0,319.64 L243.0,318.58 L246.0,317.51 L249.0,316.44 L252.0,315.37 L255.0,314.30 L258.0,313.23 L261.0,312.16 L264.0,311.10 L267.0,310.04 L270.0,308.99 L273.0,307.94 L276.0,306.89 L279.0,305.85 L282.0,304.82 L285.0,303.79 L288.0,302.76 L291.0,301.74 L294.0,300.73 L297.0,299.72 L300.0,298.71 L303.0,297.72 L306.0,296.72 L309.0,295.74 L312.0,294.76 L315.0,293.79 L318.0,292.82 L321.0,291.86 L324.0,290.91 L327.0,289.97 L330.0,289.03 L333.0,288.10 L336.0,287.18 L339.0,286.26 L342.0,285.36 L345.0,284.46 L348.0,283.57 L351.0,282.70 L354.0,281.83 L357.0,280.97 L360.0,280.13 L363.0,279.29 L366.0,278.47 L369.0,277.67 L372.0,276.88 L375.0,276.10 L378.0,275.34 L381.0,274.59 L384.0,273.86 L387.0,273.14 L390.0,272.45 L393.0,271.77 L396.0,271.11 L399.0,270.47 L402.0,269.85 L405.0,269.25 L408.0,268.67 L411.0,268.12 L414.0,267.58 L417.0,267.07 L420.0,266.58 L423.0,266.12 L426.0,265.67 L429.0,265.25 L432.0,264.84 L435.0,264.46 L438.0,264.09 L441.0,263.73 L444.0,263.40 L447.0,263.07 L450.0,262.76 L453.0,262.46 L456.0,262.16 L459.0,261.88 L462.0,261.61 L465.0,261.34 L468.0,261.08 L471.0,260.82 L474.0,260.56 L477.0,260.31 L480.0,260.06 L483.0,259.80 L486.0,259.55 L489.0,259.29 L492.0,259.03 L495.0,258.77 L498.0,258.50 L501.0,258.22 L504.0,257.94 L507.0,257.65 L510.0,257.35 L513.0,257.05 L516.0,256.75 L519.0,256.44 L522.0,256.12 L525.0,255.81 L528.0,255.48 L531.0,255.15 L534.0,254.82 L537.0,254.49 L540.0,254.15 L543.0,253.80 L546.0,253.46 L549.0,253.11 L552.0,252.75 L555.0,252.40 L558.0,252.04 L561.0,251.68 L564.0,251.32 L567.0,250.96 L570.0,250.59 L573.0,250.22 L576.0,249.85 L579.0,249.49 L582.0,249.12 L585.0,248.75 L588.0,248.38 L591.0,248.01 L594.0,247.64 L597.0,247.27 L600.0,246.90 L603.0,246.53 L606.0,246.17 L609.0,245.81 L612.0,245.44 L615.0,245.08 L618.0,244.73 L621.0,244.37 L624.0,244.02 L627.0,243.67 L630.0,243.33 L633.0,242.98 L636.0,242.65 L639.0,242.31 L642.0,241.98 L645.0,241.66 L648.0,241.34 L651.0,241.02 L654.0,240.71 L657.0,240.41 L660.0,240.11 L663.0,239.82 L666.0,239.54 L669.0,239.26 L672.0,238.98 L675.0,238.72 L678.0,238.46 L681.0,238.21 L684.0,237.97 L687.0,237.74 L690.0,237.51 L693.0,237.29 L696.0,237.09 L699.0,236.89 L702.0,236.70 L705.0,236.52 L708.0,236.35 L711.0,236.19 L714.0,236.04 L717.0,235.90 L720.0,235.77 L723.0,235.65 L726.0,235.54 L729.0,235.45 L732.0,235.37 L735.0,235.30 L738.0,235.24 L741.0,235.19 L744.0,235.16 L747.0,235.14 L750.0,235.13 L753.0,235.14 L756.0,235.16 L759.0,235.20 L762.0,235.25 L765.0,235.31 L768.0,235.39 L771.0,235.48 L774.0,235.59 L777.0,235.71 L780.0,235.85 L783.0,235.99 L786.0,236.15 L789.0,236.31 L792.0,236.48 L795.0,236.66 L798.0,236.84 L801.0,237.03 L804.0,237.22 L807.0,237.41 L810.0,237.60 L813.0,237.80 L816.0,237.99 L819.0,238.17 L822.0,238.36 L825.0,238.54 L828.0,238.71 L831.0,238.87 L834.0,239.03 L837.0,239.18 L840.0,239.31 L843.0,239.44 L846.0,239.55 L849.0,239.64 L852.0,239.72 L855.0,239.79 L858.0,239.83 L861.0,239.86 L864.0,239.87 L867.0,239.85 L870.0,239.82 L873.0,239.77 L876.0,239.71 L879.0,239.63 L882.0,239.53 L885.0,239.42 L888.0,239.29 L891.0,239.16 L894.0,239.01 L897.0,238.85 L900.0,238.68 L903.0,238.50 L906.0,238.32 L909.0,238.12 L912.0,237.92 L915.0,237.72 L918.0,237.51 L921.0,237.30 L924.0,237.09 L927.0,236.87 L930.0,236.66 L933.0,236.44 L936.0,236.23 L939.0,236.01 L942.0,235.80 L945.0,235.59 L948.0,235.38 L951.0,235.17 L954.0,234.97 L957.0,234.76 L960.0,234.56 L963.0,234.36 L966.0,234.17 L969.0,233.97 L972.0,233.79 L975.0,233.60 L978.0,233.42 L981.0,233.24 L984.0,233.07 L987.0,232.90 L990.0,232.74 L993.0,232.58 L996.0,232.43 L999.0,232.28 L1002.0,232.14 L1005.0,232.00 L1008.0,231.87 L1011.0,231.75 L1014.0,231.63 L1017.0,231.52 L1020.0,231.42 L1023.0,231.32 L1026.0,231.23 L1029.0,231.15 L1032.0,231.08 L1035.0,231.01 L1038.0,230.96 L1041.0,230.91 L1044.0,230.87 L1047.0,230.84 L1050.0,230.82 L1053.0,230.81 L1056.0,230.81 L1059.0,230.82 L1062.0,230.84 L1065.0,230.87 L1068.0,230.91 L1071.0,230.96 L1074.0,231.03 L1077.0,231.10 L1080.0,231.19 L1083.0,231.28 L1086.0,231.39 L1089.0,231.52 L1092.0,231.65 L1095.0,231.80 L1098.0,231.96 L1101.0,232.13 L1104.0,232.31 L1107.0,232.50 L1110.0,232.71 L1113.0,232.92 L1116.0,233.15 L1119.0,233.39 L1122.0,233.64 L1125.0,233.90 L1128.0,234.17 L1131.0,234.45 L1134.0,234.75 L1137.0,235.05 L1140.0,235.36 L1143.0,235.69 L1146.0,236.02 L1149.0,236.36 L1152.0,236.72 L1155.0,237.08 L1158.0,237.46 L1161.0,237.84 L1164.0,238.23 L1167.0,238.63 L1170.0,239.04 L1173.0,239.46 L1176.0,239.89 L1179.0,240.33 L1182.0,240.78 L1185.0,241.23 L1188.0,241.70 L1191.0,242.18 L1194.0,242.68 L1197.0,243.20 L1200.0,243.74 L1203.0,244.31 L1206.0,244.91 L1209.0,245.54 L1212.0,246.21 L1215.0,246.92 L1218.0,247.68 L1221.0,248.48 L1224.0,249.33 L1227.0,250.24 L1230.0,251.20 L1233.0,252.22 L1236.0,253.31 L1239.0,254.46 L1242.0,255.68" fill="none" stroke="#3e3e40" stroke-width="1.9" stroke-linejoin="round"/>
<path d="M0.0,389.38 L2.0,389.45 L4.0,389.50 L6.0,389.53 L8.0,389.54 L10.0,389.53 L12.0,389.50 L14.0,389.46 L16.0,389.39 L18.0,389.31 L20.0,389.20 L22.0,389.08 L24.0,388.93 L26.0,388.77 L28.0,388.58 L30.0,388.38 L32.0,388.15 L34.0,387.91 L36.0,387.64 L38.0,387.35 L40.0,387.05 L42.0,386.72 L44.0,386.37 L46.0,386.00 L48.0,385.61 L50.0,385.19 L52.0,384.76 L54.0,384.30 L56.0,383.83 L58.0,383.33 L60.0,382.80 L62.0,382.26 L64.0,381.70 L66.0,381.11 L68.0,380.50 L70.0,379.86 L72.0,379.20 L74.0,378.50 L76.0,377.77 L78.0,376.98 L80.0,376.15 L82.0,375.26 L84.0,374.31 L86.0,373.29 L88.0,372.20 L90.0,371.03 L92.0,369.78 L94.0,368.44 L96.0,367.00 L98.0,365.47 L100.0,363.83 L102.0,362.08 L104.0,360.23 L106.0,358.28 L108.0,356.21 L110.0,354.03 L112.0,351.75 L114.0,349.35 L116.0,346.83 L118.0,344.20 L120.0,341.46 L122.0,338.59 L124.0,335.61 L126.0,332.51 L128.0,329.29 L130.0,325.94 L132.0,322.48 L134.0,318.93 L136.0,315.28 L138.0,311.56 L140.0,307.78 L142.0,303.94 L144.0,300.06 L146.0,296.15 L148.0,292.23 L150.0,288.30 L152.0,284.37 L154.0,280.47 L156.0,276.60 L158.0,272.77 L160.0,269.00 L162.0,265.29 L164.0,261.66 L166.0,258.12 L168.0,254.69 L170.0,251.36 L172.0,248.16 L174.0,245.07 L176.0,242.06 L178.0,239.12 L180.0,236.24 L182.0,233.39 L184.0,230.57 L186.0,227.74 L188.0,224.91 L190.0,222.07 L192.0,219.24 L194.0,216.40 L196.0,213.57 L198.0,210.75 L200.0,207.94 L202.0,205.15 L204.0,202.39 L206.0,199.66 L208.0,196.97 L210.0,194.33 L212.0,191.75 L214.0,189.22 L216.0,186.77 L218.0,184.39 L220.0,182.10 L222.0,179.89 L224.0,177.77 L226.0,175.71 L228.0,173.70 L230.0,171.74 L232.0,169.81 L234.0,167.91 L236.0,166.02 L238.0,164.14 L240.0,162.26 L242.0,160.39 L244.0,158.50 L246.0,156.59 L248.0,154.67 L250.0,152.71 L252.0,150.72 L254.0,148.68 L256.0,146.59 L258.0,144.45 L260.0,142.24 L262.0,139.97 L264.0,137.62 L266.0,135.21 L268.0,132.76 L270.0,130.27 L272.0,127.76 L274.0,125.24 L276.0,122.72 L278.0,120.20 L280.0,117.72 L282.0,115.25 L284.0,112.81 L286.0,110.39 L288.0,108.00 L290.0,105.62 L292.0,103.26 L294.0,100.92 L296.0,98.60 L298.0,96.30 L300.0,94.01 L302.0,91.73 L304.0,89.47 L306.0,87.22 L308.0,84.99 L310.0,82.77 L312.0,80.55 L314.0,78.35 L316.0,76.15 L318.0,73.96 L320.0,71.78 L322.0,69.60 L324.0,67.43 L326.0,65.26 L328.0,63.09 L330.0,60.93 L332.0,58.76 L334.0,56.61 L336.0,54.46 L338.0,52.33 L340.0,50.22 L342.0,48.13 L344.0,46.06 L346.0,44.02 L348.0,42.01 L350.0,40.04 L352.0,38.11 L354.0,36.22 L356.0,34.38 L358.0,32.59 L360.0,30.85 L362.0,29.17 L364.0,27.55 L366.0,25.99 L368.0,24.51 L370.0,23.10 L372.0,21.76 L374.0,20.50 L376.0,19.33 L378.0,18.24 L380.0,17.24 L382.0,16.34 L384.0,15.54 L386.0,14.83 L388.0,14.24 L390.0,13.75 L392.0,13.37 L394.0,13.11 L396.0,12.97 L398.0,12.95 L400.0,13.06 L402.0,13.30 L404.0,13.68 L406.0,14.19 L408.0,14.84 L410.0,15.64 L412.0,16.59 L414.0,17.70 L416.0,18.95 L418.0,20.37 L420.0,21.94 L422.0,23.66 L424.0,25.50 L426.0,27.45 L428.0,29.50 L430.0,31.64 L432.0,33.85 L434.0,36.12 L436.0,38.43 L438.0,40.77 L440.0,43.13 L442.0,45.49 L444.0,47.83 L446.0,50.15 L448.0,52.44 L450.0,54.68 L452.0,56.88 L454.0,59.04 L456.0,61.15 L458.0,63.23 L460.0,65.26 L462.0,67.25 L464.0,69.19 L466.0,71.10 L468.0,72.96 L470.0,74.78 L472.0,76.56 L474.0,78.29 L476.0,79.98 L478.0,81.63 L480.0,83.23 L482.0,84.79 L484.0,86.31 L486.0,87.78 L488.0,89.21 L490.0,90.60 L492.0,91.95 L494.0,93.25 L496.0,94.53 L498.0,95.77 L500.0,96.99 L502.0,98.19 L504.0,99.37 L506.0,100.53 L508.0,101.68 L510.0,102.82 L512.0,103.96 L514.0,105.10 L516.0,106.24 L518.0,107.39 L520.0,108.54 L522.0,109.71 L524.0,110.90 L526.0,112.11 L528.0,113.35 L530.0,114.61 L532.0,115.90 L534.0,117.23 L536.0,118.58 L538.0,119.97 L540.0,121.37 L542.0,122.79 L544.0,124.23 L546.0,125.69 L548.0,127.15 L550.0,128.63 L552.0,130.10 L554.0,131.58 L556.0,133.05 L558.0,134.52 L560.0,135.98 L562.0,137.43 L564.0,138.87 L566.0,140.29 L568.0,141.68 L570.0,143.06 L572.0,144.40 L574.0,145.72 L576.0,147.00 L578.0,148.26 L580.0,149.49 L582.0,150.70 L584.0,151.89 L586.0,153.06 L588.0,154.22 L590.0,155.37 L592.0,156.52 L594.0,157.67 L596.0,158.81 L598.0,159.97 L600.0,161.13 L602.0,162.30 L604.0,163.48 L606.0,164.69 L608.0,165.92 L610.0,167.17 L612.0,168.45 L614.0,169.76 L616.0,171.11 L618.0,172.50 L620.0,173.92 L622.0,175.38 L624.0,176.87 L626.0,178.40 L628.0,179.95 L630.0,181.54 L632.0,183.15 L634.0,184.79 L636.0,186.46 L638.0,188.14 L640.0,189.85 L642.0,191.57 L644.0,193.31 L646.0,195.07 L648.0,196.84 L650.0,198.62 L652.0,200.42 L654.0,202.22 L656.0,204.03 L658.0,205.84 L660.0,207.66 L662.0,209.47 L664.0,211.29 L666.0,213.09 L668.0,214.89 L670.0,216.68 L672.0,218.44 L674.0,220.19 L676.0,221.91 L678.0,223.60 L680.0,225.27 L682.0,226.89 L684.0,228.48 L686.0,230.03 L688.0,231.53 L690.0,232.98 L692.0,234.38 L694.0,235.72 L696.0,237.00 L698.0,238.22 L700.0,239.37 L702.0,240.46 L704.0,241.47 L706.0,242.43 L708.0,243.33 L710.0,244.18 L712.0,244.99 L714.0,245.75 L716.0,246.48 L718.0,247.18 L720.0,247.86 L722.0,248.51 L724.0,249.15 L726.0,249.78 L728.0,250.41 L730.0,251.04 L732.0,251.67 L734.0,252.32 L736.0,252.98 L738.0,253.66 L740.0,254.35 L742.0,255.07 L744.0,255.80 L746.0,256.55 L748.0,257.32 L750.0,258.12 L752.0,258.93 L754.0,259.76 L756.0,260.62 L758.0,261.49 L760.0,262.39 L762.0,263.31 L764.0,264.25 L766.0,265.22 L768.0,266.21 L770.0,267.22 L772.0,268.26 L774.0,269.32 L776.0,270.41 L778.0,271.52 L780.0,272.65 L782.0,273.82 L784.0,275.01 L786.0,276.22 L788.0,277.47 L790.0,278.74 L792.0,280.04 L794.0,281.37 L796.0,282.72 L798.0,284.11 L800.0,285.52 L802.0,286.97 L804.0,288.44 L806.0,289.95 L808.0,291.48 L810.0,293.03 L812.0,294.59 L814.0,296.17 L816.0,297.75 L818.0,299.33 L820.0,300.91 L822.0,302.47 L824.0,304.02 L826.0,305.56 L828.0,307.06 L830.0,308.54 L832.0,309.98 L834.0,311.38 L836.0,312.73 L838.0,314.04 L840.0,315.29 L842.0,316.48 L844.0,317.63 L846.0,318.73 L848.0,319.79 L850.0,320.82 L852.0,321.81 L854.0,322.77 L856.0,323.71 L858.0,324.63 L860.0,325.54 L862.0,326.43 L864.0,327.32 L866.0,328.20 L868.0,329.08 L870.0,329.97 L872.0,330.87 L874.0,331.78 L876.0,332.70 L878.0,333.64 L880.0,334.57 L882.0,335.51 L884.0,336.45 L886.0,337.38 L888.0,338.30 L890.0,339.20 L892.0,340.07 L894.0,340.93 L896.0,341.75 L898.0,342.54 L900.0,343.29 L902.0,344.00 L904.0,344.66 L906.0,345.27 L908.0,345.82 L910.0,346.31 L912.0,346.75 L914.0,347.14 L916.0,347.49 L918.0,347.80 L920.0,348.07 L922.0,348.31 L924.0,348.53 L926.0,348.73 L928.0,348.92 L930.0,349.10 L932.0,349.27 L934.0,349.45 L936.0,349.63 L938.0,349.82 L940.0,350.03 L942.0,350.26 L944.0,350.52 L946.0,350.81 L948.0,351.14 L950.0,351.50 L952.0,351.92 L954.0,352.37 L956.0,352.87 L958.0,353.40 L960.0,353.96 L962.0,354.55 L964.0,355.16 L966.0,355.79 L968.0,356.44 L970.0,357.10 L972.0,357.77 L974.0,358.44 L976.0,359.11 L978.0,359.78 L980.0,360.44 L982.0,361.08 L984.0,361.72 L986.0,362.33 L988.0,362.92 L990.0,363.49 L992.0,364.02 L994.0,364.52 L996.0,364.97 L998.0,365.39 L1000.0,365.76 L1002.0,366.08 L1004.0,366.35 L1006.0,366.58 L1008.0,366.77 L1010.0,366.92 L1012.0,367.03 L1014.0,367.11 L1016.0,367.16 L1018.0,367.18 L1020.0,367.17 L1022.0,367.14 L1024.0,367.09 L1026.0,367.02 L1028.0,366.93 L1030.0,366.83 L1032.0,366.72 L1034.0,366.61 L1036.0,366.48 L1038.0,366.36 L1040.0,366.23 L1042.0,366.11 L1044.0,365.99 L1046.0,365.88 L1048.0,365.79 L1050.0,365.70 L1052.0,365.63 L1054.0,365.57 L1056.0,365.54 L1058.0,365.51 L1060.0,365.51 L1062.0,365.51 L1064.0,365.53 L1066.0,365.56 L1068.0,365.60 L1070.0,365.65 L1072.0,365.70 L1074.0,365.77 L1076.0,365.84 L1078.0,365.92 L1080.0,366.00 L1082.0,366.09 L1084.0,366.18 L1086.0,366.27 L1088.0,366.36 L1090.0,366.45 L1092.0,366.54 L1094.0,366.63 L1096.0,366.71 L1098.0,366.79 L1100.0,366.87 L1102.0,366.94 L1104.0,367.01 L1106.0,367.07 L1108.0,367.14 L1110.0,367.20 L1112.0,367.28 L1114.0,367.35 L1116.0,367.44 L1118.0,367.54 L1120.0,367.65 L1122.0,367.77 L1124.0,367.91 L1126.0,368.07 L1128.0,368.25 L1130.0,368.46 L1132.0,368.68 L1134.0,368.94 L1136.0,369.22 L1138.0,369.54 L1140.0,369.89 L1142.0,370.27 L1144.0,370.69 L1146.0,371.15 L1148.0,371.65 L1150.0,372.19 L1152.0,372.78 L1154.0,373.42 L1156.0,374.10 L1158.0,374.83 L1160.0,375.60 L1162.0,376.42 L1164.0,377.29 L1166.0,378.19 L1168.0,379.14 L1170.0,380.13 L1172.0,381.16 L1174.0,382.23 L1176.0,383.34 L1178.0,384.49 L1180.0,385.68 L1182.0,386.90 L1184.0,388.16 L1186.0,389.46 L1188.0,390.79 L1190.0,392.16 L1192.0,393.56 L1194.0,394.99 L1196.0,396.46 L1198.0,397.96 L1200.0,399.49 L1202.0,401.04 L1204.0,402.63 L1206.0,404.24 L1208.0,405.86 L1210.0,407.50 L1212.0,409.16 L1214.0,410.82 L1216.0,412.49 L1218.0,414.16 L1220.0,415.83 L1222.0,417.49 L1224.0,419.14 L1226.0,420.78 L1228.0,422.40 L1230.0,424.00 L1232.0,425.57 L1234.0,427.12 L1236.0,428.64 L1238.0,430.12 L1240.0,431.57 L1242.0,432.97" fill="none" stroke="#6268cc" stroke-width="1.0" stroke-linejoin="round"/>
<ellipse cx="699.0" cy="237.0" rx="24.8" ry="22.6" fill="none" stroke="#e23a4c" stroke-width="2.0"/>
<line x1="689.2" y1="60.4" x2="562.6" y2="114.0" stroke="#3a44d8" stroke-width="3.0" stroke-linecap="round"/><path d="M566.3,107.5 L559.8,115.2 L569.8,115.8" fill="none" stroke="#3a44d8" stroke-width="3.0" stroke-linecap="round" stroke-linejoin="round"/><line x1="276.1" y1="420.4" x2="312.3" y2="309.5" stroke="#0c0c0c" stroke-width="3.0" stroke-linecap="round"/><path d="M314.7,316.6 L313.2,306.6 L306.1,313.8" fill="none" stroke="#0c0c0c" stroke-width="3.0" stroke-linecap="round" stroke-linejoin="round"/><line x1="655.0" y1="373.5" x2="690.5" y2="265.8" stroke="#e8384a" stroke-width="3.0" stroke-linecap="round"/><path d="M692.9,273.0 L691.4,263.0 L684.3,270.1" fill="none" stroke="#e8384a" stroke-width="3.0" stroke-linecap="round" stroke-linejoin="round"/>
<!-- annotations -->
<text x="703.2" y="51.9" font-size="26.8" fill="#4a50d4" textLength="200" lengthAdjust="spacingAndGlyphs">50-Day Moving</text>
<text x="749" y="83.9" font-size="26.8" fill="#4a50d4" textLength="107.5" lengthAdjust="spacingAndGlyphs">Average</text>
<text x="166.2" y="460.6" font-size="27.2" fill="#111111" textLength="216.5" lengthAdjust="spacingAndGlyphs">200-Day Moving</text>
<text x="220.6" y="491.8" font-size="27.2" fill="#111111" textLength="107.8" lengthAdjust="spacingAndGlyphs">Average</text>
<text x="573" y="417.5" font-size="27" fill="#e23a4c" textLength="160.5" lengthAdjust="spacingAndGlyphs">Death Cross</text>
<!-- legend -->
<rect x="4" y="3" width="517" height="16.6" rx="2" fill="#ffffff" fill-opacity="0.52"/>
<g>
<circle cx="12.2" cy="12.6" r="4.4" fill="#ffffff" stroke="#e6e6ea" stroke-width="0.3"/>
<rect x="7.9" y="9.4" width="8.6" height="1.2" fill="#d6404e"/>
<rect x="7.9" y="12.1" width="8.6" height="1.2" fill="#d6404e"/>
<rect x="7.9" y="14.8" width="8.6" height="1.2" fill="#d6404e"/>
<path d="M7.8,12.6 A4.4,4.4 0 0 1 12.2,8.2 L12.2,12.6 Z" fill="#3c5fc8"/>
<path d="M14.8,6.6 L16.2,5.2 L17.6,6.6 L19.5,5.8 L18.4,8.8 L19.4,9.6 L16.2,11.6 L13.4,9.6 L14.6,8.8 Z" fill="#e03a4a" opacity="0.7"/>
</g>
<g fill="#2a2e39" font-size="11.2">
<text x="23.6" y="15.7" textLength="146.2" lengthAdjust="spacingAndGlyphs">U.S. Dollar / Canadian Dollar</text>
<text x="174.4" y="15.7">·</text>
<text x="181.2" y="15.7" textLength="11.2" lengthAdjust="spacingAndGlyphs">1D</text>
<text x="196.1" y="15.7">·</text>
<text x="201.4" y="15.7" textLength="34.4" lengthAdjust="spacingAndGlyphs">OANDA</text>
</g>
<rect x="251" y="8.6" width="5" height="5" rx="0.8" fill="#0a7d62"/>
<g font-size="9.8">
<text x="270.9" y="15" fill="#2a2e39" textLength="5.4" lengthAdjust="spacingAndGlyphs">O</text><text x="278.9" y="15" fill="#ee5a68" textLength="32" lengthAdjust="spacingAndGlyphs">1.36446</text>
<text x="314.6" y="15" fill="#2a2e39" textLength="6.2" lengthAdjust="spacingAndGlyphs">H</text><text x="322.3" y="15" fill="#ee5a68" textLength="32" lengthAdjust="spacingAndGlyphs">1.36476</text>
<text x="358.2" y="15" fill="#2a2e39" textLength="4.8" lengthAdjust="spacingAndGlyphs">L</text><text x="364.2" y="15" fill="#ee5a68" textLength="31.2" lengthAdjust="spacingAndGlyphs">1.36242</text>
<text x="400.6" y="15" fill="#2a2e39" textLength="5.6" lengthAdjust="spacingAndGlyphs">C</text><text x="407" y="15" fill="#ee5a68" textLength="32" lengthAdjust="spacingAndGlyphs">1.36410</text>
<text x="443.5" y="15" fill="#ee5a68" textLength="37" lengthAdjust="spacingAndGlyphs">−0.00004</text>
<text x="484.3" y="15" fill="#ee5a68" textLength="34.3" lengthAdjust="spacingAndGlyphs">(−0.00%)</text>
</g>
<!-- badges -->
<rect x="7.2" y="23" width="42.9" height="16.5" rx="2.2" fill="#f23645"/>
<text x="13.2" y="35.3" font-size="9.6" fill="#ffffff" textLength="26.8" lengthAdjust="spacingAndGlyphs">1.3640</text>
<text x="39.9" y="32.3" font-size="7" fill="#ffffff">2</text>
<text x="56.4" y="35.3" font-size="9.6" fill="#3a3e48" textLength="10.2" lengthAdjust="spacingAndGlyphs">1.8</text>
<rect x="72.1" y="23" width="43.5" height="16.5" rx="2.2" fill="#2962ff"/>
<text x="79.3" y="35.3" font-size="9.6" fill="#ffffff" textLength="26.8" lengthAdjust="spacingAndGlyphs">1.3642</text>
<text x="106.0" y="32.3" font-size="7" fill="#ffffff">0</text>
<text x="7.7" y="54.8" font-size="9" fill="#131722" textLength="16" lengthAdjust="spacingAndGlyphs">MAs</text>
<text x="29.7" y="54.8" font-size="9" fill="#5865d0" textLength="31.4" lengthAdjust="spacingAndGlyphs">1.36838</text>
<text x="66.6" y="54.8" font-size="9" fill="#131722" textLength="31.4" lengthAdjust="spacingAndGlyphs">1.35973</text>
<rect x="8.6" y="61.6" width="18.6" height="13.6" rx="1.5" fill="#ffffff" stroke="#e0e3eb" stroke-width="0.8"/>
<path d="M15.2,69.8 L17.9,67.1 L20.6,69.8" fill="none" stroke="#131722" stroke-width="1.1"/>
<!-- scroll button -->
<path d="M1217.6,532.4 L1220.6,535.7 L1217.6,539" fill="none" stroke="#222" stroke-width="1.3"/>
<path d="M1221.4,532.4 L1224.4,535.7 L1221.4,539" fill="none" stroke="#222" stroke-width="1.3"/>
<!-- TV logo -->
<path d="M9.9,546 H18.3 V556.3 H13.7 V549.4 H9.9 Z" fill="#131722"/>
<circle cx="22.2" cy="547.9" r="1.8" fill="#131722"/>
<path d="M26,546 H31 L28.2,556.3 H21.8 Z" fill="#131722"/>
</svg>
</body></html>
